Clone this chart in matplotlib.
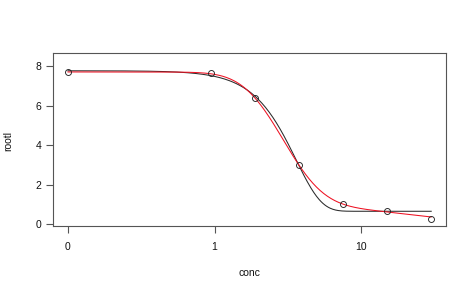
import math
import matplotlib
matplotlib.use("Agg")
import matplotlib.pyplot as plt
import numpy as np

plt.rcParams['font.family'] = ['Liberation Sans', 'DejaVu Sans']

# mean root length per concentration
conc = [0, 0.94, 1.88, 3.75, 7.5, 15, 30]
rootl = [7.74, 7.68, 6.41, 3.00, 1.02, 0.66, 0.27]

# conc 0 is put here on the log axis
zero_at = 0.1
tick_pos = [0.1, 1, 10]
tick_lab = ["0", "1", "10"]
yticks = [0, 2, 4, 6, 8]

# black curve: Weibull (type 1) four parameter fit
w1_b, w1_c, w1_d, w1_e = 2.5, 0.66, 7.78, 3.59
# red curve: smooth fit, main part + slow tail
r_d = 7.72
r_w1, r_b1, r_e1 = 0.873, 1.978, 2.926
r_w2, r_b2, r_e2 = 0.127, 1.5, 21.6


def black_curve(x):
    return w1_c + (w1_d - w1_c) * np.exp(-np.exp(w1_b * (np.log(x) - np.log(w1_e))))


def red_curve(x):
    z = -r_b1 * np.log(x / r_e1)
    phi = np.array([0.5 * (1 + math.erf(v / math.sqrt(2))) for v in z])
    tail = 1 / (1 + (x / r_e2) ** r_b2)
    return r_d * (r_w1 * phi + r_w2 * tail)


xs = np.exp(np.linspace(np.log(zero_at), np.log(max(conc)), 400))
px = [c if c > 0 else zero_at for c in conc]

fig = plt.figure(figsize=(4.74, 2.93), dpi=100)
ax = fig.add_axes([53/474, 1 - 226/293, (446 - 53)/474, (226 - 53)/293])

ax.plot(xs, black_curve(xs), color='#2a2a2a', lw=0.75)
ax.plot(xs, red_curve(xs), color='#ee1122', lw=0.75)
ax.plot(px, rootl, 'o', mfc='none', mec='#222222', ms=4.3, mew=0.65)

ax.set_xscale('log')
ax.set_xlim(10 ** -1.102, 10 ** 1.578)
ax.set_ylim(-0.086, 8.68)
ax.xaxis.set_minor_locator(matplotlib.ticker.NullLocator())
ax.set_xticks(tick_pos)
ax.set_xticklabels(tick_lab)
ax.set_yticks(yticks)

for s in ax.spines.values():
    s.set_color('#555555')
    s.set_linewidth(0.8)
ax.tick_params(axis='both', colors='#555555', labelcolor='#111111', labelsize=7.5,
               length=4.8, width=0.8)
ax.tick_params(axis='x', pad=6.5)
ax.tick_params(axis='y', pad=3.5)

fig.text(249.5/474, 1 - 272.7/293, "conc", ha='center', va='center', fontsize=7.5,
         color='#111111')
fig.text(8/474, 1 - 141/293, "rootl", ha='center', va='center', rotation=90, fontsize=7.5,
         color='#111111')

fig.savefig("out.png", dpi=100)
